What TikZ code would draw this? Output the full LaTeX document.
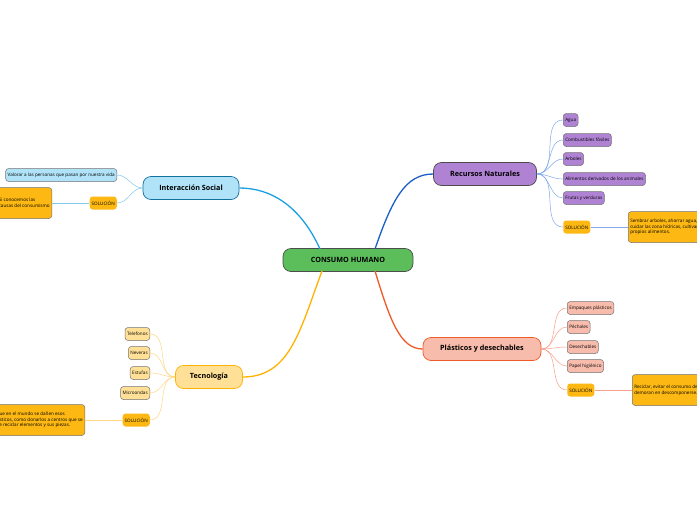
\documentclass[tikz,border=0pt]{standalone}
\usepackage{fontspec}
\setmainfont{Open Sans}
\definecolor{cpur}{RGB}{176,130,212}
\definecolor{csal}{RGB}{248,188,172}
\definecolor{cblu}{RGB}{176,226,248}
\definecolor{cyel}{RGB}{255,224,150}
\definecolor{cgold}{RGB}{253,184,19}
\definecolor{cgreen}{RGB}{92,190,90}
\definecolor{lrn}{RGB}{26,95,199}
\definecolor{lpd}{RGB}{240,90,40}
\definecolor{lis}{RGB}{27,161,226}
\definecolor{lte}{RGB}{255,179,0}
\definecolor{lrn2}{RGB}{130,170,235}
\definecolor{lpd2}{RGB}{248,160,140}
\definecolor{lis2}{RGB}{130,200,235}
\definecolor{lte2}{RGB}{255,215,130}
\begin{document}
\begin{tikzpicture}[x={(1pt,0pt)},y={(0pt,-1pt)},
  base/.style={rounded corners=3pt,draw=black!55,line width=0.5pt,inner sep=2pt,font=\fontsize{4.6}{5.6}\selectfont},
  main/.style={rounded corners=8pt,draw,line width=0.7pt,minimum height=23pt,font=\bfseries\fontsize{7.2}{8}\selectfont},
  pur/.style={base,fill=cpur,minimum height=13pt},
  sal/.style={base,fill=csal,minimum height=13pt},
  blu/.style={base,fill=cblu,minimum height=13pt},
  yel/.style={base,fill=cyel,minimum height=13pt},
  sol/.style={base,draw=none,fill=cgold,minimum height=13pt},
  solbox/.style={base,fill=cgold,align=left,minimum height=31pt,anchor=west},
  solboxl/.style={base,fill=cgold,align=left,minimum height=31pt,anchor=east},
  ln/.style={line width=0.5pt}]
\clip (0,0) rectangle (697,520);
\fill[white] (0,0) rectangle (697,520);

\node[main,fill=cgreen,draw=black!70,minimum width=130pt] (c) at (348,260) {CONSUMO HUMANO};

\node[main,fill=cpur,draw=black!70,minimum width=103pt] (rn) at (485,174) {Recursos Naturales};
\node[main,fill=csal,draw=lpd,minimum width=118pt] (pd) at (482,349) {Plásticos y desechables};
\node[main,fill=cblu,draw=lis!70!black,minimum width=96pt] (is) at (191,188) {Interacción Social};
\node[main,fill=cyel,draw=lte,minimum width=67pt] (te) at (209,377) {Tecnología};

\draw[line width=1.3pt,lrn] (375,249) .. controls (392,200) and (405,174) .. (rn.west);
\draw[line width=1.3pt,lpd] (375,271) .. controls (390,320) and (400,349) .. (pd.west);
\draw[line width=1.3pt,lis] (320,249) .. controls (300,205) and (270,188) .. (is.east);
\draw[line width=1.3pt,lte] (322,271) .. controls (300,330) and (290,377) .. (te.east);

% Recursos
\node[pur,anchor=west] (r1) at (563,120) {Agua};
\node[pur,anchor=west] (r2) at (563,140) {Combustibles fósiles};
\node[pur,anchor=west] (r3) at (563,159) {Arboles};
\node[pur,anchor=west] (r4) at (563,179) {Alimentos derivados de los animales};
\node[pur,anchor=west] (r5) at (563,198) {Frutas y verduras};
\node[sol,anchor=west] (r6) at (563,227) {SOLUCIÓN};
\node[solbox] (r7) at (628,227) {Sembrar arboles, ahorrar agua,\\cuidar las zona hídricas, cultivar\\propios alimentos.};
\foreach \n in {r1,r2,r3,r4,r5,r6}
  \draw[ln,lrn2] (rn.east) to[out=0,in=180] (\n.west);
\draw[ln,lrn2] (r6.east) -- (r7.west);

% Plasticos
\node[sal,anchor=west] (p1) at (567,308) {Empaques plásticos};
\node[sal,anchor=west] (p2) at (567,327) {Pèchales};
\node[sal,anchor=west] (p3) at (567,347) {Desechables};
\node[sal,anchor=west] (p4) at (567,366) {Papel higiénico};
\node[sol,anchor=west] (p5) at (567,390) {SOLUCIÓN};
\node[solbox] (p6) at (632,390) {Reciclar, evitar el consumo de productos que\\demoran en descomponerse.};
\foreach \n in {p1,p2,p3,p4,p5}
  \draw[ln,lpd2] (pd.east) to[out=0,in=180] (\n.west);
\draw[ln,lpd2] (p5.east) -- (p6.west);

% Interaccion
\node[blu,anchor=east] (i1) at (117,175) {Valorar a las personas que pasan por nuestra vida};
\node[sol,anchor=east] (i2) at (117,203) {SOLUCIÓN};
\node[solboxl] (i3) at (52,203) {Si conocemos las\\causas del consumismo};
\foreach \n in {i1,i2}
  \draw[ln,lis2] (is.west) to[out=180,in=0] (\n.east);
\draw[ln,lis2] (i2.west) -- (i3.east);

% Tecnologia
\node[yel,anchor=east] (t1) at (150,334) {Telefonos};
\node[yel,anchor=east] (t2) at (150,353) {Neveras};
\node[yel,anchor=east] (t3) at (150,373) {Estufas};
\node[yel,anchor=east] (t4) at (150,393) {Microondas};
\node[sol,anchor=east] (t5) at (150,420) {SOLUCIÓN};
\node[solboxl] (t6) at (85,420) {En caso de que en el mundo se dañen esos\\electrodomésticos, como donarlos a centros que se\\encarguen de reciclar elementos y sus piezas.};
\foreach \n in {t1,t2,t3,t4,t5}
  \draw[ln,lte2] (te.west) to[out=180,in=0] (\n.east);
\draw[ln,lte2] (t5.west) -- (t6.east);
\end{tikzpicture}
\end{document}
